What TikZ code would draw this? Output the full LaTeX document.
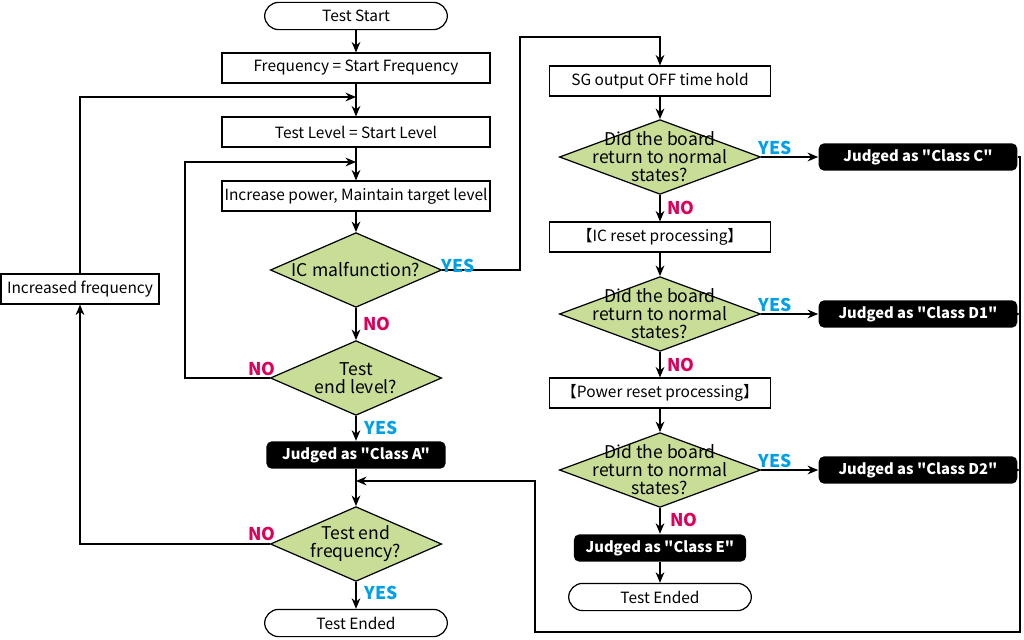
\documentclass[tikz,border=0pt]{standalone}
\usepackage{fontspec}
\setmainfont{Noto Sans CJK JP}[Ligatures=TeXOff]
\usetikzlibrary{shapes.geometric,arrows.meta}
\definecolor{judgeGreen}{RGB}{200,222,150}
\definecolor{yesBlue}{RGB}{0,160,230}
\definecolor{noRed}{RGB}{220,0,90}
\tikzstyle{stepBox}=[shape = rectangle, draw, fill = white, minimum width = 152.5pt, minimum height = 17pt, inner sep = 1pt]
\tikzstyle{endBox}=[shape = rectangle, rounded corners = 8pt, draw, fill = white, minimum width = 104pt, minimum height = 15.5pt, inner sep = 1pt]
\tikzstyle{classBox}=[shape = rectangle, rounded corners = 3pt, fill = black, text = white, font = \fontsize{8.4}{10}\bfseries, minimum height = 15.5pt, inner sep = 1pt]
\tikzstyle{askDiamond}=[shape = diamond, draw, fill = judgeGreen, aspect = 2.3, align = center, font = \linespread{0.85}\selectfont]
\tikzstyle{yesLabel}=[text = yesBlue, font = \bfseries]
\tikzstyle{noLabel}=[text = noRed, font = \bfseries]

\begin{document}
\begin{tikzpicture}[x = 0.02cm, y = -0.02cm, font = \fontsize{8.8}{10}\selectfont, >={Stealth[length=6pt,width=5pt]}, line width = 0.7pt]
\useasboundingbox (0,0) rectangle (1024,639);
\tikzstyle{askLeft}=[askDiamond, inner sep = -4pt, minimum width = 172*0.567pt, minimum height = 75*0.567pt]
\tikzstyle{askRight}=[askDiamond, inner sep = -14pt, minimum width = 202*0.567pt, minimum height = 75*0.567pt]
% left column
\node[endBox] (start) at (356,16) {Test Start};
\node[stepBox] (freq) at (356,68) {Frequency = Start Frequency};
\node[stepBox] (level) at (356,132) {Test Level = Start Level};
\node[stepBox] (power) at (356,196) {Increase power, Maintain target level};
\node[askLeft] (icbad) at (356,270) {IC malfunction?};
\node[askLeft] (endlevel) at (356,378) {Test\\end level?};
\node[classBox, minimum width = 102pt] (classA) at (356,455) {Judged as "Class A"};
\node[askLeft] (endfreq) at (356,544) {Test end\\frequency?};
\node[endBox] (endA) at (356,623) {Test Ended};
\node[stepBox, minimum width = 90pt] (incfreq) at (80,289) {Increased frequency};
% right column
\node[stepBox, minimum width = 126pt] (sgoff) at (660,81) {SG output OFF time hold};
\node[askRight] (boardC) at (660,157) {Did the board\\return to normal\\states?};
\node[stepBox, minimum width = 126pt] (icreset) at (660,237) {【IC reset processing】};
\node[askRight] (boardD1) at (660,314) {Did the board\\return to normal\\states?};
\node[stepBox, minimum width = 126pt] (pwreset) at (660,393) {【Power reset processing】};
\node[askRight] (boardD2) at (660,470) {Did the board\\return to normal\\states?};
\node[classBox, minimum width = 98pt] (classE) at (660,548) {Judged as "Class E"};
\node[endBox] (endB) at (660,597) {Test Ended};
\node[classBox, minimum width = 113pt] (classC) at (918,157) {Judged as "Class C"};
\node[classBox, minimum width = 113pt] (classD1) at (918,314) {Judged as "Class D1"};
\node[classBox, minimum width = 113pt] (classD2) at (918,470) {Judged as "Class D2"};
\coordinate (rail) at (1020,632);
\coordinate (back) at (356,481);
% main flow
\draw[->] (start) -- (freq);
\draw[->] (freq) -- (level);
\draw[->] (level) -- (power);
\draw[->] (power) -- (icbad);
\draw[->] (icbad) -- (endlevel);
\draw[->] (endlevel) -- (classA);
\draw[->] (classA) -- (endfreq);
\draw[->] (endfreq) -- (endA);
\draw[->] (sgoff) -- (boardC);
\draw[->] (boardC) -- (icreset);
\draw[->] (icreset) -- (boardD1);
\draw[->] (boardD1) -- (pwreset);
\draw[->] (pwreset) -- (boardD2);
\draw[->] (boardD2) -- (classE);
\draw[->] (classE) -- (endB);
\draw[->] (boardC) -- (classC);
\draw[->] (boardD1) -- (classD1);
\draw[->] (boardD2) -- (classD2);
% loops
\draw[->] (icbad.east) -| (520,37) -| (sgoff.north);
\draw[->] (endlevel.west) -| (185,162) -- (356,162);
\draw[->] (endfreq.west) -| (incfreq.south);
\draw[->] (incfreq.north) |- (356,97);
\draw[->] (classC.east) -| (rail) -| (535,481) -- (back);
\draw[->] (classD1.east) -- (1020,314);
\draw[->] (classD2.east) -- (1020,470);
% labels
\node[yesLabel] at (458,266) {YES};
\node[noLabel] at (377,324) {NO};
\node[noLabel] at (262,369) {NO};
\node[yesLabel] at (381,428) {YES};
\node[noLabel] at (262,534) {NO};
\node[yesLabel] at (381,593) {YES};
\node[yesLabel] at (775,148) {YES};
\node[noLabel] at (681,208) {NO};
\node[yesLabel] at (775,305) {YES};
\node[noLabel] at (681,365) {NO};
\node[yesLabel] at (775,461) {YES};
\node[noLabel] at (684,520) {NO};
\end{tikzpicture}
\end{document}
